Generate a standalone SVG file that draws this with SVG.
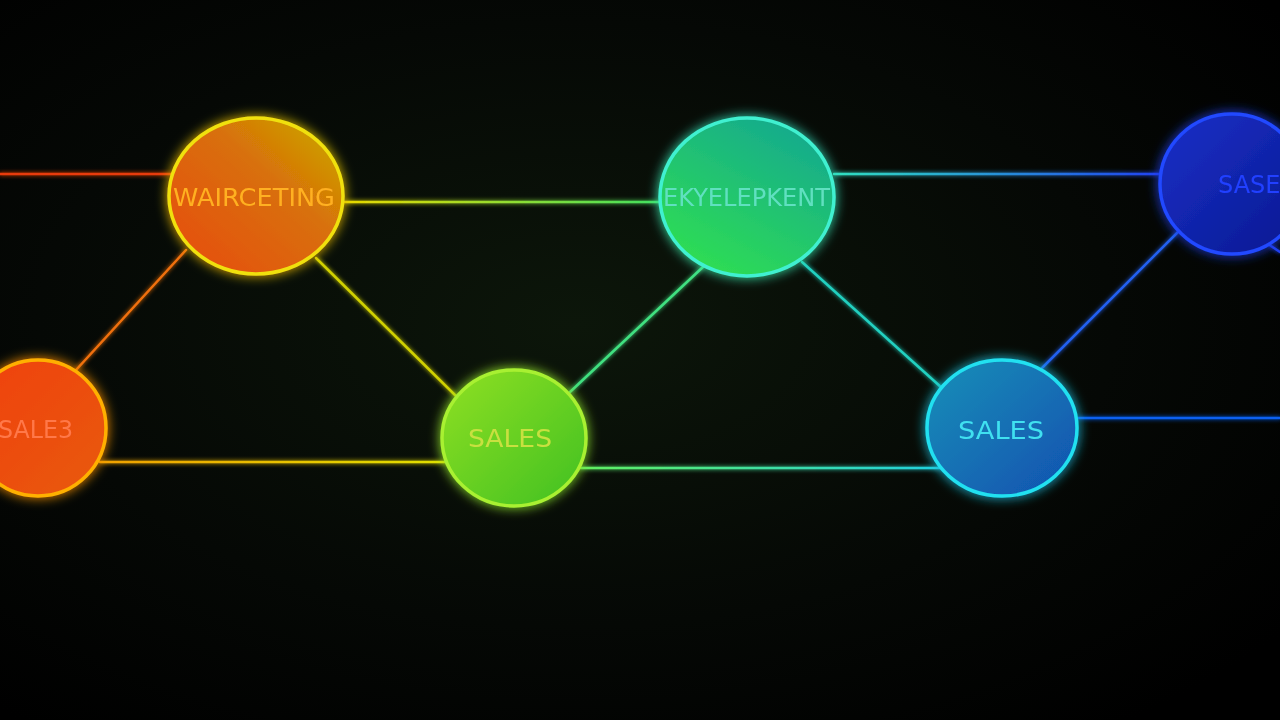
<svg xmlns="http://www.w3.org/2000/svg" width="1280" height="720" viewBox="0 0 1280 720">
<defs>
<radialGradient id="bg" cx="0.45" cy="0.45" r="0.7">
<stop offset="0" stop-color="#0c160a"/><stop offset="0.6" stop-color="#050805"/><stop offset="1" stop-color="#000"/>
</radialGradient>
<linearGradient id="gM" x1="0" y1="1" x2="1" y2="0"><stop offset="0" stop-color="#e84a08"/><stop offset="0.6" stop-color="#d87008"/><stop offset="1" stop-color="#c8b000"/></linearGradient>
<linearGradient id="gD" x1="0.2" y1="1" x2="0.8" y2="0"><stop offset="0" stop-color="#30e050"/><stop offset="1" stop-color="#14a890"/></linearGradient>
<linearGradient id="gB" x1="0" y1="0" x2="1" y2="1"><stop offset="0" stop-color="#1830c8"/><stop offset="1" stop-color="#0a1890"/></linearGradient>
<linearGradient id="gL" x1="0" y1="0" x2="1" y2="1"><stop offset="0" stop-color="#f04010"/><stop offset="1" stop-color="#e85a10"/></linearGradient>
<linearGradient id="gG" x1="0" y1="0" x2="1" y2="1"><stop offset="0" stop-color="#90e020"/><stop offset="1" stop-color="#40c020"/></linearGradient>
<linearGradient id="gS" x1="0" y1="0" x2="1" y2="1"><stop offset="0" stop-color="#1890b8"/><stop offset="1" stop-color="#1050b0"/></linearGradient>
<linearGradient id="l1" gradientUnits="userSpaceOnUse" x1="344" y1="0" x2="662" y2="0"><stop offset="0" stop-color="#e8d800"/><stop offset="1" stop-color="#40e060"/></linearGradient>
<linearGradient id="l2" gradientUnits="userSpaceOnUse" x1="834" y1="0" x2="1162" y2="0"><stop offset="0" stop-color="#30e0c0"/><stop offset="1" stop-color="#2040f0"/></linearGradient>
<linearGradient id="l3" gradientUnits="userSpaceOnUse" x1="100" y1="0" x2="448" y2="0"><stop offset="0" stop-color="#f0a000"/><stop offset="1" stop-color="#e0e000"/></linearGradient>
<linearGradient id="l4" gradientUnits="userSpaceOnUse" x1="580" y1="0" x2="944" y2="0"><stop offset="0" stop-color="#60f060"/><stop offset="1" stop-color="#20d0e0"/></linearGradient>
<filter id="glow" x="-50%" y="-50%" width="200%" height="200%">
<feGaussianBlur stdDeviation="6" result="b"/><feMerge><feMergeNode in="b"/><feMergeNode in="SourceGraphic"/></feMerge>
</filter>
<filter id="lglow" filterUnits="userSpaceOnUse" x="0" y="0" width="1280" height="720">
<feGaussianBlur stdDeviation="2" result="b"/><feMerge><feMergeNode in="b"/><feMergeNode in="SourceGraphic"/></feMerge>
</filter>
</defs>
<style>
.c{fill:none;stroke-width:2.5;stroke-linecap:round}
.n{stroke-width:3.5}
.t{font-family:"DejaVu Sans","Liberation Sans",sans-serif;font-size:24px;text-anchor:start}
</style>
<rect width="1280" height="720" fill="url(#bg)"/>
<g id="connectors" filter="url(#lglow)">
<line class="c" x1="0" y1="174" x2="172" y2="174" stroke="#e83a10"/>
<line class="c" x1="344" y1="202" x2="662" y2="202" stroke="url(#l1)"/>
<line class="c" x1="834" y1="174" x2="1162" y2="174" stroke="url(#l2)"/>
<line class="c" x1="186" y1="250" x2="76" y2="370" stroke="#f07010"/>
<line class="c" x1="316" y1="258" x2="456" y2="396" stroke="#d0d000"/>
<line class="c" x1="570" y1="392" x2="704" y2="266" stroke="#40e080"/>
<line class="c" x1="802" y1="262" x2="942" y2="388" stroke="#20d0c0"/>
<line class="c" x1="1042" y1="368" x2="1178" y2="232" stroke="#2060f0"/>
<line class="c" x1="100" y1="462" x2="448" y2="462" stroke="url(#l3)"/>
<line class="c" x1="580" y1="468" x2="944" y2="468" stroke="url(#l4)"/>
<line class="c" x1="1078" y1="418" x2="1280" y2="418" stroke="#1060f0"/>
<line class="c" x1="1268" y1="244" x2="1280" y2="252" stroke="#2040f0"/>
</g>
<g id="node-marketing" filter="url(#glow)">
<ellipse class="n" cx="256" cy="196" rx="87" ry="78" fill="url(#gM)" stroke="#f0e010"/>
<text class="t" x="173" y="206" fill="#ffb020" textLength="162" lengthAdjust="spacingAndGlyphs">WAIRCETING</text>
</g>
<g id="node-development" filter="url(#glow)">
<ellipse class="n" cx="747" cy="197" rx="87" ry="79" fill="url(#gD)" stroke="#40f0d0"/>
<text class="t" x="663" y="206" fill="#60e0c0" textLength="167" lengthAdjust="spacingAndGlyphs">EKYELEPKENT</text>
</g>
<g id="node-blue-top" filter="url(#glow)">
<ellipse class="n" cx="1232" cy="184" rx="72" ry="70" fill="url(#gB)" stroke="#2048ff"/>
<text class="t" x="1218" y="193" fill="#2040ff">SASE</text>
</g>
<g id="node-sales-left" filter="url(#glow)">
<ellipse class="n" cx="38" cy="428" rx="68" ry="68" fill="url(#gL)" stroke="#ffb000"/>
<text class="t" x="-2" y="438" fill="#ff7848" textLength="75" lengthAdjust="spacingAndGlyphs">SALE3</text>
</g>
<g id="node-sales-green" filter="url(#glow)">
<ellipse class="n" cx="514" cy="438" rx="72" ry="68" fill="url(#gG)" stroke="#a8f030"/>
<text class="t" x="468" y="447" fill="#c8e040" textLength="84" lengthAdjust="spacingAndGlyphs">SALES</text>
</g>
<g id="node-sales-blue" filter="url(#glow)">
<ellipse class="n" cx="1002" cy="428" rx="75" ry="68" fill="url(#gS)" stroke="#20e0f0"/>
<text class="t" x="958" y="439" fill="#40e0f0" textLength="86" lengthAdjust="spacingAndGlyphs">SALES</text>
</g>
</svg>
